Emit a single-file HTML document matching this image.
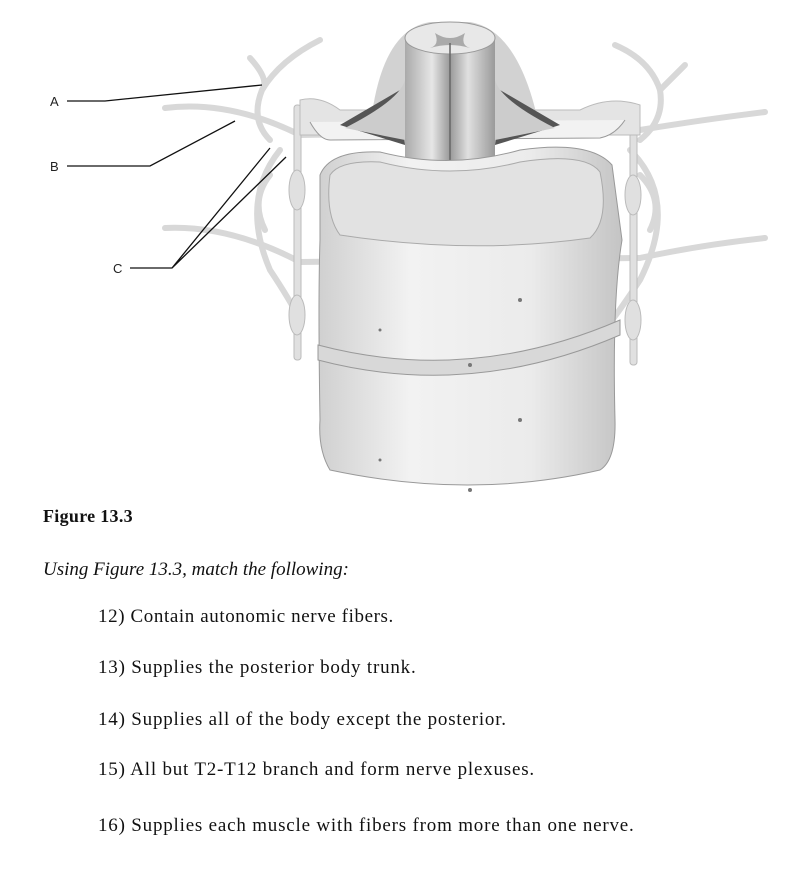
<!DOCTYPE html>
<html><head><meta charset="utf-8"><style>
body{margin:0;width:804px;height:881px;background:#fff;position:relative;overflow:hidden;font-family:"Liberation Serif",serif;color:#111}
.t{position:absolute;font-size:19px;letter-spacing:0.8px;white-space:nowrap}
</style></head><body>
<svg width="804" height="500" style="position:absolute;left:0;top:0" viewBox="0 0 804 500">
<defs>
<linearGradient id="cord" x1="0" x2="1"><stop offset="0" stop-color="#aaa"/><stop offset=".3" stop-color="#e6e6e6"/><stop offset=".5" stop-color="#999"/><stop offset=".7" stop-color="#e0e0e0"/><stop offset="1" stop-color="#9a9a9a"/></linearGradient>
<linearGradient id="body" x1="0" x2="1"><stop offset="0" stop-color="#d0d0d0"/><stop offset=".3" stop-color="#f2f2f2"/><stop offset=".7" stop-color="#ebebeb"/><stop offset="1" stop-color="#c4c4c4"/></linearGradient>
</defs>
<g fill="none" stroke="#d8d8d8" stroke-width="6" stroke-linecap="round">
<path d="M165 108 Q230 100 300 135 L640 130 Q700 120 765 112"/>
<path d="M165 228 Q230 225 300 262 L640 258 Q700 245 765 238"/>
<path d="M320 40 Q280 60 262 90 Q250 120 270 140"/>
<path d="M250 58 Q270 80 262 90"/>
<path d="M615 45 Q650 60 660 90 Q665 120 640 140"/>
<path d="M685 65 Q665 85 660 90"/>
<path d="M270 175 Q250 200 265 230"/><path d="M640 175 Q665 200 650 230"/>
<path d="M280 150 Q240 200 270 270 Q290 300 300 320"/><path d="M630 150 Q680 200 640 280 Q620 310 612 320"/>
</g>
<g fill="#e0e0e0" stroke="#bbb" stroke-width="1">
<rect x="294" y="105" width="7" height="255" rx="3"/>
<ellipse cx="297" cy="190" rx="8" ry="20"/><ellipse cx="297" cy="315" rx="8" ry="20"/>
<rect x="630" y="115" width="7" height="250" rx="3"/>
<ellipse cx="633" cy="195" rx="8" ry="20"/><ellipse cx="633" cy="320" rx="8" ry="20"/>
</g>
<path d="M370 130 Q380 30 430 22 L470 22 Q520 30 540 130 Z" fill="#d2d2d2"/>
<path d="M300 100 Q320 95 340 110 L580 110 Q610 95 640 105 L640 135 L300 135Z" fill="#e4e4e4" stroke="#bbb"/>
<path d="M310 122 Q320 140 330 140 L600 138 Q615 135 625 120" fill="#f2f2f2" stroke="#999"/>
<path d="M340 125 L400 90 L405 145 Z M560 125 L500 90 L495 145Z" fill="#555"/>
<path d="M345 128 Q400 100 405 80 L405 140Z M555 128 Q500 100 495 80 L495 140Z" fill="#ccc"/>
<rect x="405" y="38" width="90" height="152" fill="url(#cord)"/>
<ellipse cx="450" cy="38" rx="45" ry="16" fill="#e8e8e8" stroke="#999"/>
<path d="M435 33 q15 10 30 0 q-5 12 5 15 q-20 -6 -40 0 q10 -3 5 -15z" fill="#aaa"/>
<line x1="450" y1="43" x2="450" y2="190" stroke="#666" stroke-width="1.5"/>
<path d="M320 175 Q330 150 380 152 Q450 170 520 150 Q590 140 612 165 L622 240 Q612 300 615 420 Q616 460 600 470 Q470 500 330 470 Q318 450 320 420 Q318 300 320 240 Z" fill="url(#body)" stroke="#999"/>
<path d="M330 175 Q340 160 380 162 Q450 180 520 162 Q585 152 600 172 Q610 220 590 238 Q470 255 340 235 Q325 215 330 175Z" fill="#e2e2e2" stroke="#aaa"/>
<path d="M318 345 Q470 385 620 320 L620 335 Q470 400 318 360Z" fill="#d8d8d8" stroke="#999"/>
<g fill="#777"><circle cx="520" cy="300" r="2"/><circle cx="470" cy="365" r="2"/><circle cx="520" cy="420" r="2"/><circle cx="380" cy="330" r="1.5"/><circle cx="470" cy="490" r="2"/><circle cx="380" cy="460" r="1.5"/></g>
<g fill="none" stroke="#111" stroke-width="1.3">
<path d="M67 101 L105 101 L262 85"/>
<path d="M67 166 L150 166 L235 121"/>
<path d="M130 268 L172 268 L270 148 M172 268 L286 157"/>
</g>
<g font-family="Liberation Sans,sans-serif" font-size="13" fill="#222">
<text x="50" y="106">A</text><text x="50" y="171">B</text><text x="113" y="273">C</text>
</g>
</svg>
<div class="t" style="left:43px;top:506px;font-weight:bold;font-size:18px;letter-spacing:0.3px">Figure 13.3</div>
<div class="t" style="left:43px;top:559px;font-style:italic;letter-spacing:0">Using Figure 13.3, match the following:</div>
<div class="t" style="left:98px;top:606px;letter-spacing:0.6px">12) Contain autonomic nerve fibers.</div>
<div class="t" style="left:98px;top:657px">13) Supplies the posterior body trunk.</div>
<div class="t" style="left:98px;top:709px">14) Supplies all of the body except the posterior.</div>
<div class="t" style="left:98px;top:759px">15) All but T2-T12 branch and form nerve plexuses.</div>
<div class="t" style="left:98px;top:815px">16) Supplies each muscle with fibers from more than one nerve.</div>
</body></html>
